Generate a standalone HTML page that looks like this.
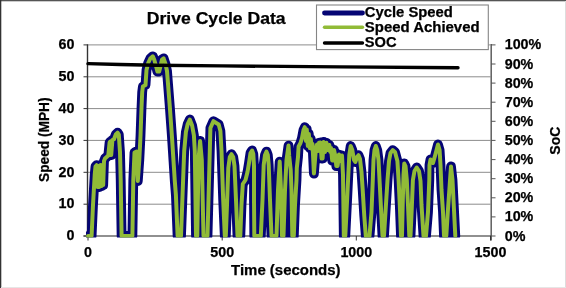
<!DOCTYPE html>
<html><head><meta charset="utf-8"><title>Drive Cycle Data</title>
<style>html,body{margin:0;padding:0;background:#fff}svg{display:block}text{font-family:"Liberation Sans",sans-serif;font-weight:bold;fill:#000;stroke:#000;stroke-width:0.25px}</style></head><body>
<svg width="566" height="288" viewBox="0 0 566 288">
<rect x="0" y="0" width="566" height="288" fill="#fff"/>
<rect x="0" y="0" width="566" height="1.3" fill="#555"/>
<rect x="0" y="0" width="1.3" height="288" fill="#333"/>
<rect x="565" y="1" width="1" height="287" fill="#ddd"/>
<rect x="1" y="287" width="565" height="1" fill="#e6e6e6"/>
<line x1="88" y1="204.2" x2="490.5" y2="204.2" stroke="#8c8c8c" stroke-width="1"/>
<line x1="88" y1="172.3" x2="490.5" y2="172.3" stroke="#8c8c8c" stroke-width="1"/>
<line x1="88" y1="140.4" x2="490.5" y2="140.4" stroke="#8c8c8c" stroke-width="1"/>
<line x1="88" y1="108.6" x2="490.5" y2="108.6" stroke="#8c8c8c" stroke-width="1"/>
<line x1="88" y1="76.8" x2="490.5" y2="76.8" stroke="#8c8c8c" stroke-width="1"/>
<line x1="88" y1="44.9" x2="490.5" y2="44.9" stroke="#8c8c8c" stroke-width="1"/>
<line x1="87.5" y1="44.4" x2="87.5" y2="236.5" stroke="#333" stroke-width="1.4"/>
<line x1="491.2" y1="44" x2="491.2" y2="240.5" stroke="#5e5e5e" stroke-width="1.5"/>
<line x1="83.5" y1="236" x2="491" y2="236" stroke="#222" stroke-width="1.2"/>
<line x1="83.5" y1="236.0" x2="88" y2="236.0" stroke="#333" stroke-width="1"/>
<line x1="83.5" y1="204.2" x2="88" y2="204.2" stroke="#333" stroke-width="1"/>
<line x1="83.5" y1="172.3" x2="88" y2="172.3" stroke="#333" stroke-width="1"/>
<line x1="83.5" y1="140.4" x2="88" y2="140.4" stroke="#333" stroke-width="1"/>
<line x1="83.5" y1="108.6" x2="88" y2="108.6" stroke="#333" stroke-width="1"/>
<line x1="83.5" y1="76.8" x2="88" y2="76.8" stroke="#333" stroke-width="1"/>
<line x1="83.5" y1="44.9" x2="88" y2="44.9" stroke="#333" stroke-width="1"/>
<line x1="491" y1="236.0" x2="495.5" y2="236.0" stroke="#555" stroke-width="1"/>
<line x1="491" y1="216.9" x2="495.5" y2="216.9" stroke="#555" stroke-width="1"/>
<line x1="491" y1="197.8" x2="495.5" y2="197.8" stroke="#555" stroke-width="1"/>
<line x1="491" y1="178.7" x2="495.5" y2="178.7" stroke="#555" stroke-width="1"/>
<line x1="491" y1="159.6" x2="495.5" y2="159.6" stroke="#555" stroke-width="1"/>
<line x1="491" y1="140.4" x2="495.5" y2="140.4" stroke="#555" stroke-width="1"/>
<line x1="491" y1="121.3" x2="495.5" y2="121.3" stroke="#555" stroke-width="1"/>
<line x1="491" y1="102.2" x2="495.5" y2="102.2" stroke="#555" stroke-width="1"/>
<line x1="491" y1="83.1" x2="495.5" y2="83.1" stroke="#555" stroke-width="1"/>
<line x1="491" y1="64.0" x2="495.5" y2="64.0" stroke="#555" stroke-width="1"/>
<line x1="491" y1="44.9" x2="495.5" y2="44.9" stroke="#555" stroke-width="1"/>
<line x1="88.0" y1="236" x2="88.0" y2="240.5" stroke="#333" stroke-width="1"/>
<line x1="222.2" y1="236" x2="222.2" y2="240.5" stroke="#333" stroke-width="1"/>
<line x1="356.3" y1="236" x2="356.3" y2="240.5" stroke="#333" stroke-width="1"/>
<line x1="490.5" y1="236" x2="490.5" y2="240.5" stroke="#333" stroke-width="1"/>
<defs><clipPath id="pc"><rect x="86" y="40" width="407" height="197.5"/></clipPath></defs>
<g clip-path="url(#pc)" fill="none" stroke-linejoin="round" stroke-linecap="round">
<polyline points="88.0,236.0 91.6,236.0 93.0,205.0 94.7,175.0 95.5,166.5 96.6,165.2 97.6,187.0 98.4,166.0 99.2,187.0 100.0,165.5 100.8,165.0 101.6,186.0 102.4,166.0 103.2,185.0 104.0,161.0 105.0,158.5 108.3,155.5 109.6,142.5 110.3,141.5 111.2,155.0 112.4,140.0 114.0,139.2 115.8,134.5 117.6,132.7 118.8,134.5 120.0,152.0 120.7,180.0 121.6,236.0 132.4,236.0 133.3,180.0 134.5,152.5 136.5,151.5 137.8,181.0 139.3,160.0 140.5,136.0 141.5,108.0 142.2,92.0 142.9,86.5 145.5,85.0 146.5,70.0 148.2,63.0 150.3,58.5 152.8,56.3 154.2,59.5 156.0,66.0 157.4,71.5 158.3,67.0 159.2,71.5 160.5,66.0 162.0,59.5 163.6,58.3 165.5,64.0 167.0,71.0 168.1,85.0 169.9,108.0 171.9,136.0 174.8,181.0 175.9,195.0 177.6,236.0 181.0,236.0 184.2,151.0 185.9,132.0 187.7,124.0 189.8,119.5 192.1,125.5 193.9,135.4 194.8,151.0 195.5,200.0 196.0,236.0 197.3,236.0 198.5,160.0 200.1,141.0 201.8,160.0 203.5,236.0 207.5,236.0 209.8,151.0 210.4,128.0 213.4,121.2 218.7,124.5 220.4,131.0 221.5,151.0 223.2,200.0 224.8,236.0 225.8,236.0 227.0,205.0 228.3,168.0 229.8,157.0 231.5,154.2 233.2,157.0 234.5,166.0 236.0,200.0 237.5,236.0 240.3,236.0 241.5,205.0 242.8,184.0 245.5,180.0 247.5,172.0 249.0,163.0 250.5,153.0 252.1,150.5 253.3,154.0 254.0,166.0 254.0,200.0 254.3,236.0 260.8,236.0 262.5,200.0 263.7,165.0 265.0,155.0 266.5,151.6 267.8,155.0 268.7,165.0 270.0,200.0 271.5,236.0 276.5,236.0 278.0,190.0 279.7,161.6 281.0,190.0 282.0,236.0 283.5,236.0 285.0,190.0 286.5,160.0 288.5,145.6 289.2,156.0 290.7,170.0 291.5,190.0 292.3,236.0 293.8,236.0 295.0,205.0 296.5,180.0 296.8,168.0 298.0,157.0 298.6,146.5 300.5,143.0 302.0,138.0 303.5,130.0 304.8,127.2 306.0,141.0 306.8,129.5 307.8,146.0 308.8,134.0 309.8,148.0 310.8,139.0 311.8,149.0 312.5,144.0 313.9,173.5 315.8,150.0 317.0,144.5 318.0,151.0 319.0,142.8 320.5,142.5 321.6,158.5 322.6,158.5 323.6,142.0 325.0,152.0 326.5,142.8 328.0,150.0 329.3,145.0 330.3,152.0 331.0,148.0 332.2,160.5 333.0,160.5 334.0,150.0 335.3,156.0 336.3,166.0 337.6,166.0 339.0,154.5 340.5,161.0 342.0,155.5 343.0,175.0 343.8,236.0 345.3,236.0 346.8,206.0 348.3,175.0 349.3,155.0 350.7,146.0 352.3,150.0 354.0,160.0 355.3,162.0 357.0,157.0 358.5,155.2 360.0,159.0 361.5,172.0 362.7,190.0 364.2,215.0 365.8,236.0 369.5,236.0 371.5,212.0 372.8,180.0 373.5,160.0 374.5,150.0 375.8,146.0 377.2,150.0 378.5,160.0 379.8,185.0 381.2,212.0 382.5,236.0 384.0,236.0 385.5,212.0 387.5,180.0 389.0,161.0 390.5,153.0 392.7,150.2 395.0,152.0 397.4,161.0 398.6,180.0 399.8,205.0 401.0,236.0 402.0,236.0 402.8,200.0 403.5,175.0 404.3,163.5 405.5,166.0 406.8,180.0 408.0,205.0 409.3,236.0 410.5,236.0 411.7,210.0 412.9,180.0 414.5,171.0 416.7,167.5 419.0,171.0 420.5,181.0 421.5,205.0 423.5,236.0 426.0,236.0 428.0,212.0 429.3,180.0 429.5,165.0 430.5,159.5 433.0,163.0 435.5,154.0 438.0,144.5 439.6,150.0 440.5,165.0 441.5,190.0 443.0,212.0 444.0,236.0 446.3,236.0 447.8,212.0 449.7,185.0 451.0,166.5 452.5,180.0 453.5,200.0 455.3,236.0" stroke="#050574" stroke-width="9.8"/>
<polyline points="88.0,236.0 91.6,236.0 93.0,205.0 94.7,175.0 95.5,166.5 96.6,165.2 97.6,187.0 98.4,166.0 99.2,187.0 100.0,165.5 100.8,165.0 101.6,186.0 102.4,166.0 103.2,185.0 104.0,161.0 105.0,158.5 108.3,155.5 109.6,142.5 110.3,141.5 111.2,155.0 112.4,140.0 114.0,139.2 115.8,134.5 117.6,132.7 118.8,134.5 120.0,152.0 120.7,180.0 121.6,236.0 132.4,236.0 133.3,180.0 134.5,152.5 136.5,151.5 137.8,181.0 139.3,160.0 140.5,136.0 141.5,108.0 142.2,92.0 142.9,86.5 145.5,85.0 146.5,70.0 148.2,63.0 150.3,58.5 152.8,56.3 154.2,59.5 156.0,66.0 157.4,71.5 158.3,67.0 159.2,71.5 160.5,66.0 162.0,59.5 163.6,58.3 165.5,64.0 167.0,71.0 168.1,85.0 169.9,108.0 171.9,136.0 174.8,181.0 175.9,195.0 177.6,236.0 181.0,236.0 184.2,151.0 185.9,132.0 187.7,124.0 189.8,119.5 192.1,125.5 193.9,135.4 194.8,151.0 195.5,200.0 196.0,236.0 197.3,236.0 198.5,160.0 200.1,141.0 201.8,160.0 203.5,236.0 207.5,236.0 209.8,151.0 210.4,128.0 213.4,121.2 218.7,124.5 220.4,131.0 221.5,151.0 223.2,200.0 224.8,236.0 225.8,236.0 227.0,205.0 228.3,168.0 229.8,157.0 231.5,154.2 233.2,157.0 234.5,166.0 236.0,200.0 237.5,236.0 240.3,236.0 241.5,205.0 242.8,184.0 245.5,180.0 247.5,172.0 249.0,163.0 250.5,153.0 252.1,150.5 253.3,154.0 254.0,166.0 254.0,200.0 254.3,236.0 260.8,236.0 262.5,200.0 263.7,165.0 265.0,155.0 266.5,151.6 267.8,155.0 268.7,165.0 270.0,200.0 271.5,236.0 276.5,236.0 278.0,190.0 279.7,161.6 281.0,190.0 282.0,236.0 283.5,236.0 285.0,190.0 286.5,160.0 288.5,145.6 289.2,156.0 290.7,170.0 291.5,190.0 292.3,236.0 293.8,236.0 295.0,205.0 296.5,180.0 296.8,168.0 298.0,157.0 298.6,146.5 300.5,143.0 302.0,138.0 303.5,130.0 304.8,127.2 306.0,141.0 306.8,129.5 307.8,146.0 308.8,134.0 309.8,148.0 310.8,139.0 311.8,149.0 312.5,144.0 313.9,173.5 315.8,150.0 317.0,144.5 318.0,151.0 319.0,142.8 320.5,142.5 321.6,158.5 322.6,158.5 323.6,142.0 325.0,152.0 326.5,142.8 328.0,150.0 329.3,145.0 330.3,152.0 331.0,148.0 332.2,160.5 333.0,160.5 334.0,150.0 335.3,156.0 336.3,166.0 337.6,166.0 339.0,154.5 340.5,161.0 342.0,155.5 343.0,175.0 343.8,236.0 345.3,236.0 346.8,206.0 348.3,175.0 349.3,155.0 350.7,146.0 352.3,150.0 354.0,160.0 355.3,162.0 357.0,157.0 358.5,155.2 360.0,159.0 361.5,172.0 362.7,190.0 364.2,215.0 365.8,236.0 369.5,236.0 371.5,212.0 372.8,180.0 373.5,160.0 374.5,150.0 375.8,146.0 377.2,150.0 378.5,160.0 379.8,185.0 381.2,212.0 382.5,236.0 384.0,236.0 385.5,212.0 387.5,180.0 389.0,161.0 390.5,153.0 392.7,150.2 395.0,152.0 397.4,161.0 398.6,180.0 399.8,205.0 401.0,236.0 402.0,236.0 402.8,200.0 403.5,175.0 404.3,163.5 405.5,166.0 406.8,180.0 408.0,205.0 409.3,236.0 410.5,236.0 411.7,210.0 412.9,180.0 414.5,171.0 416.7,167.5 419.0,171.0 420.5,181.0 421.5,205.0 423.5,236.0 426.0,236.0 428.0,212.0 429.3,180.0 429.5,165.0 430.5,159.5 433.0,163.0 435.5,154.0 438.0,144.5 439.6,150.0 440.5,165.0 441.5,190.0 443.0,212.0 444.0,236.0 446.3,236.0 447.8,212.0 449.7,185.0 451.0,166.5 452.5,180.0 453.5,200.0 455.3,236.0" stroke="#91bb37" stroke-width="4.0"/>
<polyline points="88.0,63.6 120.0,64.5 155.0,65.3 222.0,65.9 340.0,66.9 458.0,67.8" stroke="#000" stroke-width="3.4" stroke-linecap="round"/>
</g>
<rect x="316.5" y="5" width="171.8" height="44.6" fill="#fff" stroke="#858585" stroke-width="1.1"/>
<line x1="324.5" y1="13" x2="362.5" y2="13" stroke="#050574" stroke-width="4.8" stroke-linecap="round"/>
<line x1="324.5" y1="27.3" x2="362.5" y2="27.3" stroke="#91bb37" stroke-width="3.4" stroke-linecap="round"/>
<line x1="324.5" y1="43" x2="362.5" y2="43" stroke="#000" stroke-width="3.4" stroke-linecap="round"/>
<text x="364.8" y="17.3" font-size="13.9" text-anchor="start" textLength="88" lengthAdjust="spacingAndGlyphs">Cycle Speed</text>
<text x="364.8" y="32.1" font-size="13.9" text-anchor="start" textLength="114.8" lengthAdjust="spacingAndGlyphs">Speed Achieved</text>
<text x="364.8" y="46.5" font-size="13.9" text-anchor="start" textLength="31.8" lengthAdjust="spacingAndGlyphs">SOC</text>
<text x="146.8" y="23.7" font-size="16.4" text-anchor="start" textLength="138.8" lengthAdjust="spacingAndGlyphs">Drive Cycle Data</text>
<text x="74.4" y="240.2" font-size="14.3" text-anchor="end">0</text>
<text x="74.4" y="208.3" font-size="14.3" text-anchor="end">10</text>
<text x="74.4" y="176.5" font-size="14.3" text-anchor="end">20</text>
<text x="74.4" y="144.6" font-size="14.3" text-anchor="end">30</text>
<text x="74.4" y="112.8" font-size="14.3" text-anchor="end">40</text>
<text x="74.4" y="81.0" font-size="14.3" text-anchor="end">50</text>
<text x="74.4" y="49.1" font-size="14.3" text-anchor="end">60</text>
<text x="504.7" y="240.5" font-size="14.3" text-anchor="start">0%</text>
<text x="504.7" y="221.4" font-size="14.3" text-anchor="start">10%</text>
<text x="504.7" y="202.3" font-size="14.3" text-anchor="start">20%</text>
<text x="504.7" y="183.2" font-size="14.3" text-anchor="start">30%</text>
<text x="504.7" y="164.1" font-size="14.3" text-anchor="start">40%</text>
<text x="504.7" y="144.9" font-size="14.3" text-anchor="start">50%</text>
<text x="504.7" y="125.8" font-size="14.3" text-anchor="start">60%</text>
<text x="504.7" y="106.7" font-size="14.3" text-anchor="start">70%</text>
<text x="504.7" y="87.6" font-size="14.3" text-anchor="start">80%</text>
<text x="504.7" y="68.5" font-size="14.3" text-anchor="start">90%</text>
<text x="504.7" y="49.4" font-size="14.3" text-anchor="start">100%</text>
<text x="88.0" y="256.7" font-size="14.3" text-anchor="middle">0</text>
<text x="222.2" y="256.7" font-size="14.3" text-anchor="middle">500</text>
<text x="356.3" y="256.7" font-size="14.3" text-anchor="middle">1000</text>
<text x="490.5" y="256.7" font-size="14.3" text-anchor="middle">1500</text>
<text x="231.1" y="275.3" font-size="14" text-anchor="start" textLength="109.4" lengthAdjust="spacingAndGlyphs">Time (seconds)</text>
<text transform="translate(49,182) rotate(-90)" font-size="14.2" textLength="84.6" lengthAdjust="spacingAndGlyphs">Speed (MPH)</text>
<text transform="translate(560.2,154.7) rotate(-90)" font-size="14.6" textLength="28" lengthAdjust="spacingAndGlyphs">SoC</text>
</svg></body></html>
